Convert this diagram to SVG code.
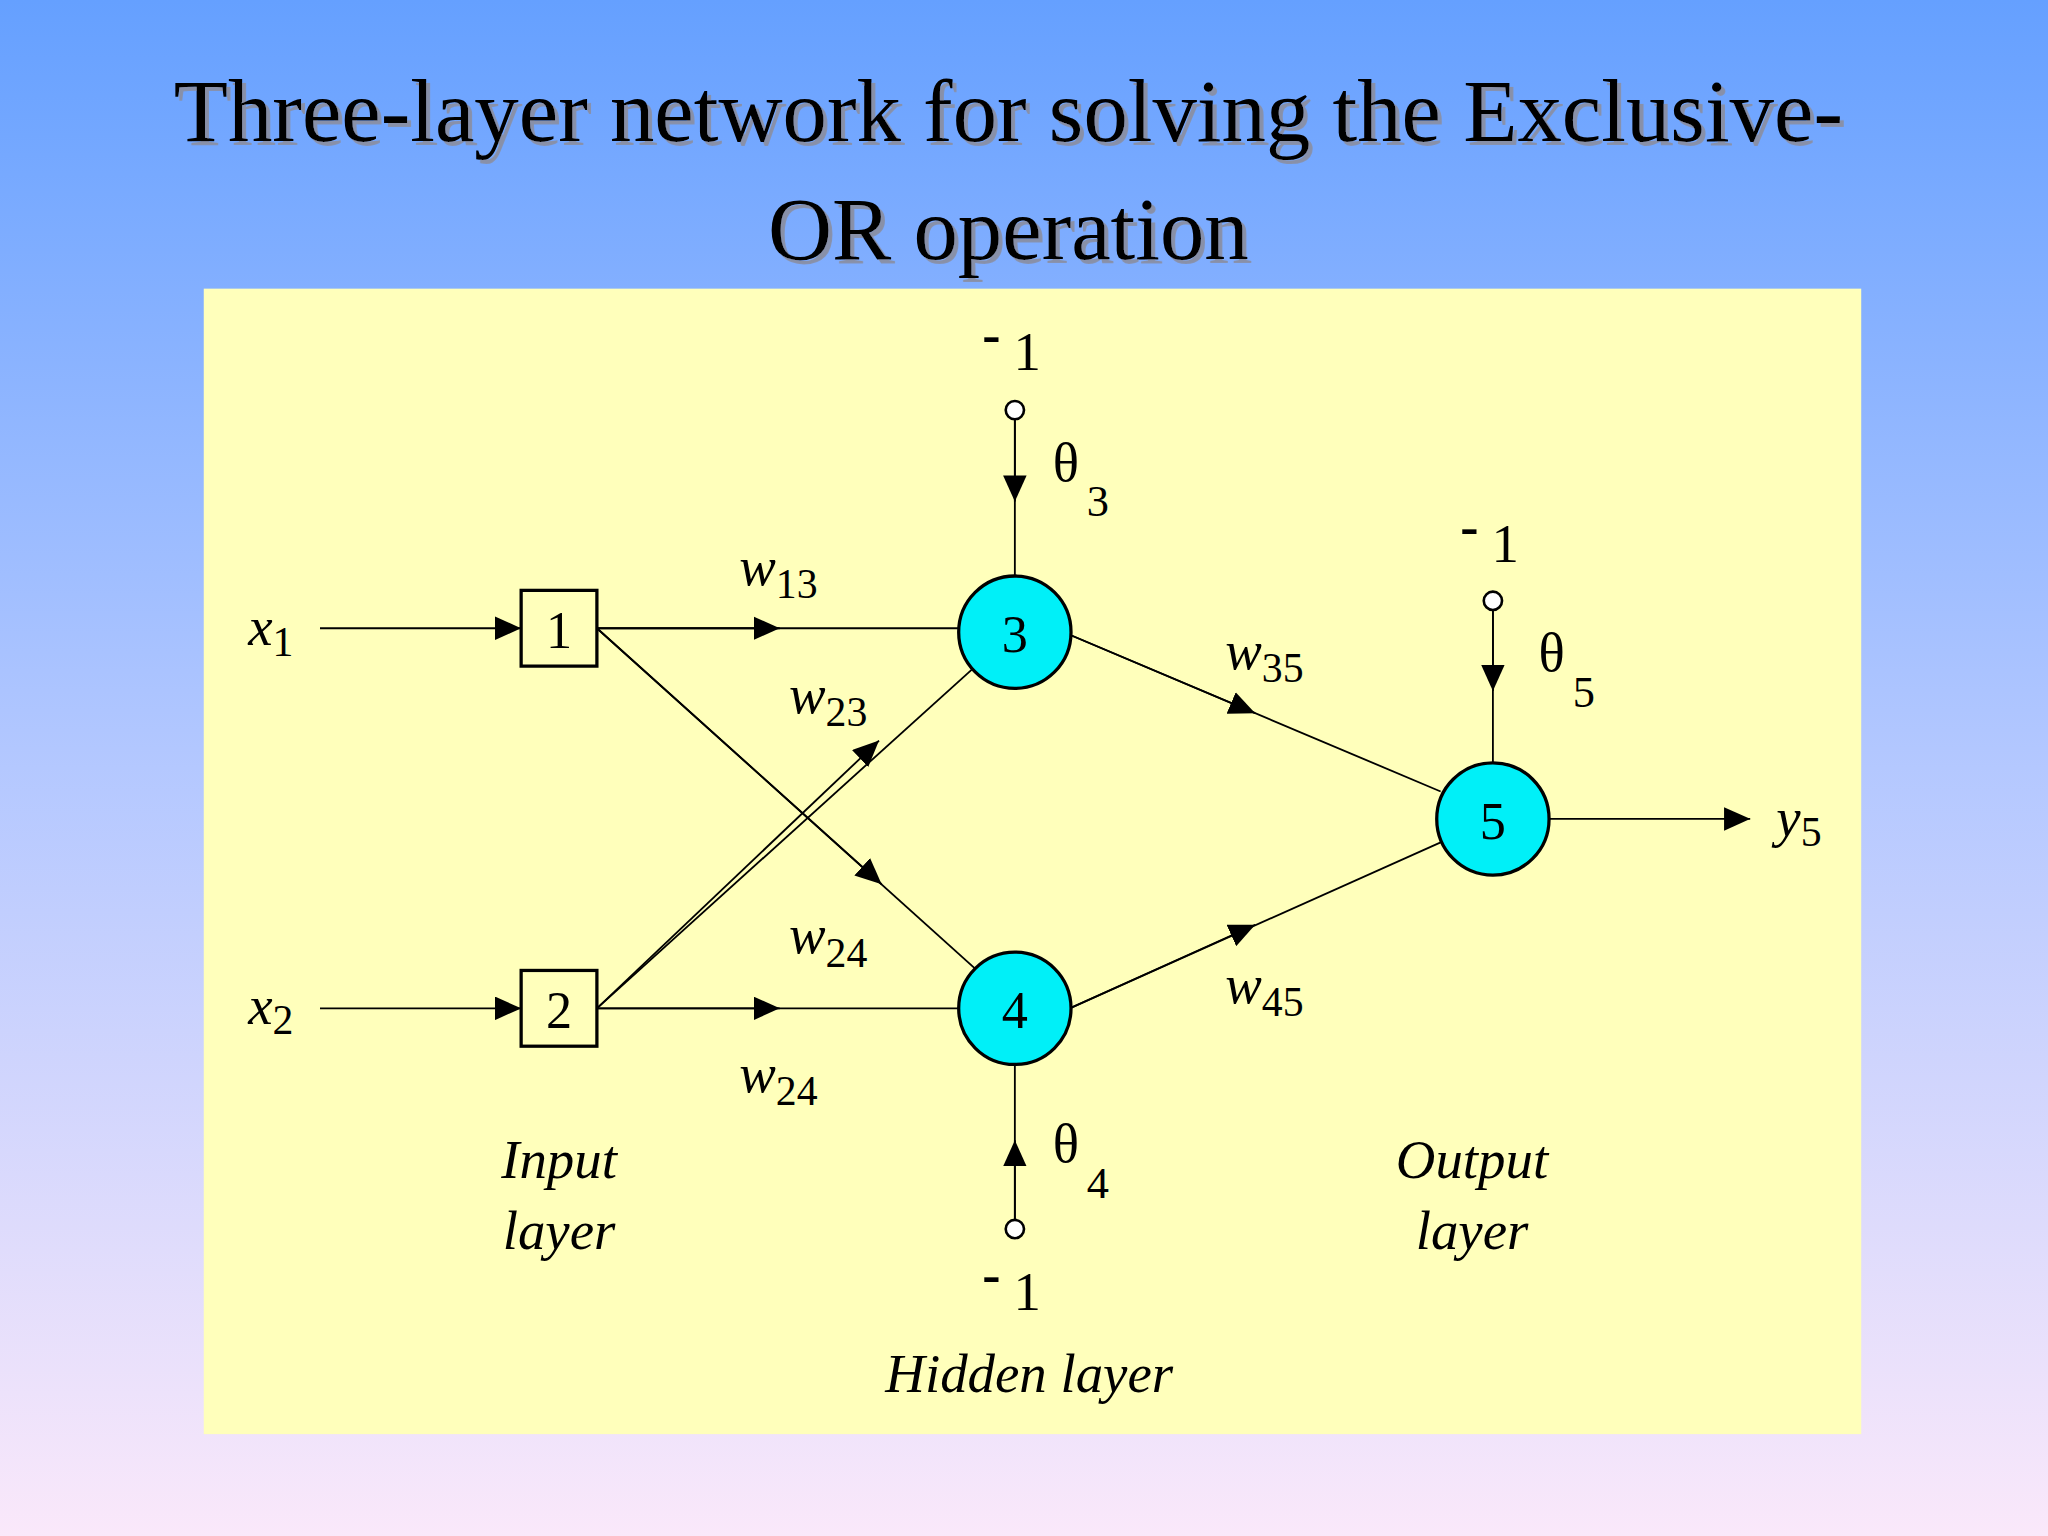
<svg xmlns="http://www.w3.org/2000/svg" width="2048" height="1536" viewBox="0 0 2048 1536">
<defs>
<linearGradient id="bg" x1="0" y1="0" x2="0" y2="1">
<stop offset="0" stop-color="#65A0FF"/>
<stop offset="0.5" stop-color="#B4C8FF"/>
<stop offset="1" stop-color="#FAE8FA"/>
</linearGradient>
<filter id="sh" x="-5%" y="-20%" width="110%" height="140%"><feDropShadow dx="3" dy="3" stdDeviation="0.5" flood-color="#8890A8"/></filter>
<marker id="ah" viewBox="0 0 20 18" refX="20" refY="9" markerWidth="20" markerHeight="18" markerUnits="userSpaceOnUse" orient="auto"><path d="M0,0 L20,9 L0,18 Z" fill="#000"/></marker>
<style>
.t{font-family:"Liberation Serif",serif;fill:#000}
.i{font-style:italic}
.ln{stroke:#000;stroke-width:1.4;fill:none}
.a{stroke:#000;stroke-width:1.4;fill:none;marker-end:url(#ah)}
.nc{fill:#00F0F8;stroke:#000;stroke-width:2.5}
</style>
</defs>
<rect width="2048" height="1536" fill="url(#bg)"/>
<g transform="scale(1.30612)">
<g filter="url(#sh)">
<text class="t" x="772" y="108" font-size="68" text-anchor="middle">Three-layer network for solving the Exclusive-</text>
<text class="t" x="772" y="198" font-size="68" text-anchor="middle">OR operation</text>
</g>
<rect x="156" y="221" width="1269" height="877" fill="#FFFFBB"/>
<g id="connectors">
<line class="a" x1="245" y1="481" x2="399" y2="481"/>
<line class="a" x1="245" y1="772" x2="399" y2="772"/>
<line class="ln" x1="457" y1="481" x2="735" y2="481"/><line class="a" x1="457" y1="481" x2="597" y2="481"/>
<line class="ln" x1="457" y1="481" x2="747" y2="742"/><line class="a" x1="457" y1="481" x2="675" y2="677"/>
<line class="ln" x1="457" y1="772" x2="747" y2="510"/><line class="a" x1="457" y1="772" x2="673" y2="567"/>
<line class="ln" x1="457" y1="772" x2="735" y2="772"/><line class="a" x1="457" y1="772" x2="597" y2="772"/>
<line class="ln" x1="819" y1="486" x2="1103" y2="606"/><line class="a" x1="819" y1="486" x2="961" y2="546"/>
<line class="ln" x1="819" y1="772" x2="1103" y2="645"/><line class="a" x1="819" y1="772" x2="961" y2="708"/>
<line class="a" x1="1186" y1="627" x2="1340" y2="627"/>
<line class="ln" x1="777" y1="321" x2="777" y2="441"/><line class="a" x1="777" y1="321" x2="777" y2="384"/>
<line class="ln" x1="1143" y1="467" x2="1143" y2="584"/><line class="a" x1="1143" y1="467" x2="1143" y2="529"/>
<line class="ln" x1="777" y1="934" x2="777" y2="815"/><line class="a" x1="777" y1="934" x2="777" y2="873"/>
<circle cx="777" cy="314" r="7" fill="#fff" stroke="#000" stroke-width="2"/>
<circle cx="1143" cy="460" r="7" fill="#fff" stroke="#000" stroke-width="2"/>
<circle cx="777" cy="941" r="7" fill="#fff" stroke="#000" stroke-width="2"/>
</g>
<g id="n1"><rect x="399" y="452" width="58" height="58" fill="none" stroke="#000" stroke-width="2.5"/><text class="t" x="428" y="496" font-size="40" text-anchor="middle">1</text></g>
<g id="n2"><rect x="399" y="743" width="58" height="58" fill="none" stroke="#000" stroke-width="2.5"/><text class="t" x="428" y="787" font-size="40" text-anchor="middle">2</text></g>
<g id="n3"><circle class="nc" cx="777" cy="484" r="43"/><text class="t" x="777" y="499" font-size="40" text-anchor="middle">3</text></g>
<g id="n4"><circle class="nc" cx="777" cy="772" r="43"/><text class="t" x="777" y="787" font-size="40" text-anchor="middle">4</text></g>
<g id="n5"><circle class="nc" cx="1143" cy="627" r="43"/><text class="t" x="1143" y="642" font-size="40" text-anchor="middle">5</text></g>
<g id="labels" font-size="42">
<text class="t i" x="190" y="494">x<tspan font-style="normal" font-size="32" dy="8">1</tspan></text>
<text class="t i" x="190" y="784">x<tspan font-style="normal" font-size="32" dy="8">2</tspan></text>
<text class="t i" x="1360" y="640">y<tspan font-style="normal" font-size="32" dy="8">5</tspan></text>
<text class="t i" x="566" y="448">w<tspan font-style="normal" font-size="32" dy="10">13</tspan></text>
<text class="t i" x="604" y="546">w<tspan font-style="normal" font-size="32" dy="10">23</tspan></text>
<text class="t i" x="604" y="730">w<tspan font-style="normal" font-size="32" dy="10">24</tspan></text>
<text class="t i" x="566" y="836">w<tspan font-style="normal" font-size="32" dy="10">24</tspan></text>
<text class="t i" x="938" y="512">w<tspan font-style="normal" font-size="32" dy="10">35</tspan></text>
<text class="t i" x="938" y="768">w<tspan font-style="normal" font-size="32" dy="10">45</tspan></text>
<text class="t" x="806" y="368">θ<tspan font-size="34" dx="6" dy="27">3</tspan></text>
<text class="t" x="1178" y="514">θ<tspan font-size="34" dx="6" dy="27">5</tspan></text>
<text class="t" x="806" y="890">θ<tspan font-size="34" dx="6" dy="27">4</tspan></text>
<text class="t" x="752" y="270" font-weight="bold">-<tspan font-weight="normal" dx="10" dy="13">1</tspan></text>
<text class="t" x="1118" y="417" font-weight="bold">-<tspan font-weight="normal" dx="10" dy="13">1</tspan></text>
<text class="t" x="752" y="990" font-weight="bold">-<tspan font-weight="normal" dx="10" dy="13">1</tspan></text>
<text class="t i" x="428" y="902" text-anchor="middle">Input</text>
<text class="t i" x="428" y="956" text-anchor="middle">layer</text>
<text class="t i" x="1127" y="902" text-anchor="middle">Output</text>
<text class="t i" x="1127" y="956" text-anchor="middle">layer</text>
<text class="t i" x="788" y="1066" text-anchor="middle">Hidden layer</text>
</g>
</g>
</svg>
